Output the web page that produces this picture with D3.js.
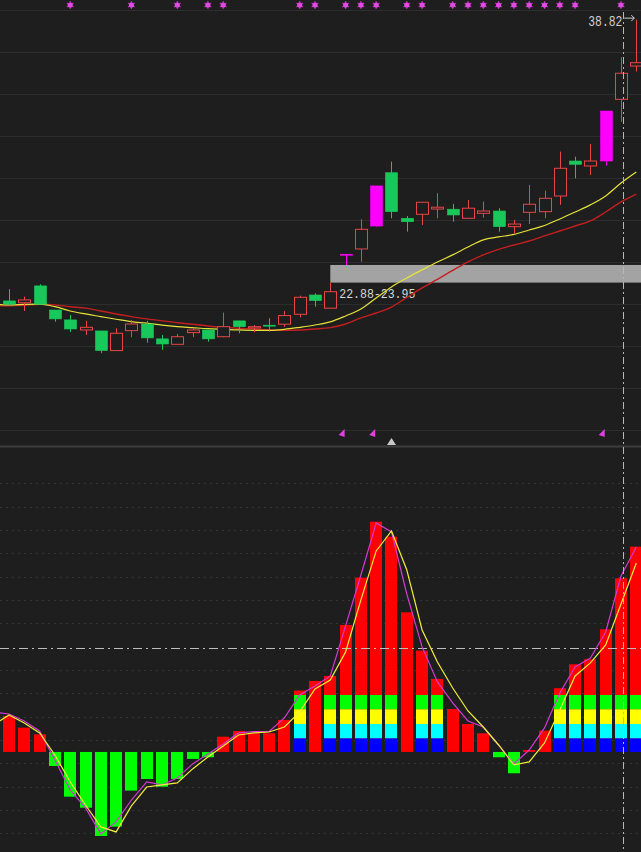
<!DOCTYPE html>
<html>
<head>
<meta charset="utf-8">
<script src="https://cdn.jsdelivr.net/npm/d3@7"></script>
<style>
  body { margin: 0; background: #1e1e1e; overflow: hidden; }
  svg { display: block; }
</style>
</head>
<body>
<script>
var width = 641;
var height = 852;

// daily candles (price)
var opens  = [21.77,21.66,22.68,21.22,20.62,20.01,19.95,18.76,19.97,20.37,19.47,19.14,19.85,20.01,19.60,20.56,20.13,20.30,20.36,20.96,22.13,21.33,
              24.60,24.92,26.31,29.54,26.78,27.02,27.34,27.33,26.78,27.08,27.22,26.27,27.14,27.18,28.13,30.25,29.95,30.25,33.99,36.01];
var highs  = [22.48,22.03,22.78,21.22,20.92,20.57,19.95,20.11,20.62,20.56,19.71,19.77,20.15,20.01,21.06,20.56,20.31,20.72,21.16,22.09,22.23,22.88,
              24.60,26.72,28.74,30.21,26.92,27.75,28.30,27.65,27.89,27.79,27.39,26.68,28.80,28.45,30.82,30.51,31.28,33.28,36.54,38.82];
var lows   = [21.47,21.16,21.57,20.51,19.89,19.71,18.60,18.76,19.57,19.24,18.80,19.14,19.57,19.30,19.57,19.81,19.87,19.91,20.21,20.76,21.42,21.33,
              23.95,24.15,26.27,26.78,25.97,26.37,26.78,26.57,26.78,26.82,25.97,25.87,26.43,26.78,27.59,29.20,29.40,29.97,32.63,35.67];
var closes = [21.57,21.83,21.57,20.68,20.07,20.17,18.76,19.81,20.37,19.53,19.16,19.60,20.01,19.47,20.21,20.21,20.21,20.25,20.88,21.99,21.79,22.33,
              24.60,26.11,28.74,27.18,26.57,27.75,27.45,26.98,27.39,27.22,26.27,26.43,27.63,27.99,29.81,30.05,30.25,33.28,35.57,36.21];
var limitUp = [22, 24, 39];
var starDays = [4, 8, 11, 13, 14, 19, 20, 22, 23, 24, 26, 27, 29, 30, 31, 32, 33, 34, 35, 36, 37, 40];
var arrowDay = 25;

// moving averages, first value is the day before the window
var maFast = [21.56,21.53,21.56,21.57,21.42,21.16,20.98,20.82,20.66,20.51,20.42,20.30,20.21,20.15,20.09,20.05,20.01,19.99,19.99,20.05,20.17,20.31,20.50,
              20.86,21.28,21.95,22.62,23.16,23.65,24.13,24.56,25.04,25.47,25.65,25.80,26.07,26.34,26.74,27.16,27.59,28.13,28.92,29.59];
var maSlow = [21.47,21.47,21.50,21.57,21.53,21.42,21.33,21.16,20.98,20.82,20.68,20.56,20.45,20.36,20.25,20.17,20.11,20.07,20.01,19.99,20.01,20.07,20.15,
              20.37,20.74,21.04,21.40,21.98,22.56,23.07,23.62,24.13,24.56,24.89,25.16,25.40,25.71,26.01,26.31,26.62,27.16,27.77,28.25];

var gapLow = 22.88;
var gapHigh = 23.95;
var gapFrom = 21;

// lower indicator
var hist = [34.6,23.4,17.0,-13.5,-43.0,-53.6,-80.8,-71.8,-37.2,-26.0,-33.4,-26.0,-6.7,-5.1,14.7,20.2,18.0,18.0,30.8,59.1,68.3,73.1,
            122.1,167.6,221.4,207.0,134.3,97.4,70.2,41.3,26.9,18.0,-5.1,-20.5,1.9,20.5,61.3,84.3,89.1,118.0,167.0,197.4];
var stacked = [19, 21, 22, 23, 24, 25, 27, 28, 36, 37, 38, 39, 40, 41];
var stackLevels = [0, 13.2, 26.9, 41.1, 54.8];
var stackColors = ["#0000ff", "#00ffff", "#ffff00", "#00ff00"];
var fastLine = [38.5,36.5,29.8,20.2,-7.7,-36.5,-53.8,-78.8,-67.3,-46.2,-28.8,-31.7,-25.0,-11.5,-1.9,7.7,18.3,19.5,19.7,32.7,54.8,63.5,73.1,
                121.2,170.2,220.2,211.5,151.9,101.0,67.3,47.1,29.8,24.0,6.7,-11.5,1.9,23.1,56.7,81.7,90.4,115.4,169.2,197.1];
var slowLine = [26.0,35.6,27.9,18.3,-2.9,-28.8,-51.0,-72.1,-76.9,-51.9,-33.7,-31.7,-29.8,-16.3,-4.8,5.8,16.3,18.3,19.2,24.0,38.5,60.6,69.2,
                96.2,146.2,193.3,212.5,175.0,117.3,86.5,61.5,39.4,24.0,6.7,-12.5,-9.6,8.7,40.4,73.1,85.6,102.9,142.3,181.7];
var refLevel = 100;
var cursorDay = 40.15;

var n = opens.length;
var bg = "#1e1e1e";
var upColor = "#e84646", downColor = "#19c85a", limitColor = "#ff00ff";

var x = d3.scaleLinear().domain([0, n - 1]).range([9, 636.3]);
var y = d3.scaleLinear().domain([13.34, 40.01]).range([440, 0]);
var yi = d3.scaleLinear().domain([-96.2, 294.2]).range([852, 446]);
var gridRow = d3.scaleLinear().domain([0, 10]).range([10, 430]);
var dotRow = d3.scaleLinear().domain([0, 15]).range([483.3, 833.3]);

var svg = d3.select("body").append("svg")
    .attr("width", width)
    .attr("height", height)
    .style("background", bg);

// grid of the price panel
svg.append("g").selectAll("line")
  .data(d3.range(11))
  .enter().append("line")
  .attr("x1", 0).attr("x2", width)
  .attr("y1", function(d) { return Math.round(gridRow(d)) + 0.5; })
  .attr("y2", function(d) { return Math.round(gridRow(d)) + 0.5; })
  .attr("stroke", "#2d2d2d");

svg.append("line")
  .attr("x1", 0).attr("x2", width)
  .attr("y1", 446.5).attr("y2", 446.5)
  .attr("stroke", "#3e3e3e").attr("stroke-width", 2);

// dotted grid of the indicator panel
svg.append("g").selectAll("line")
  .data(d3.range(16).filter(function(d) { return d != 7; }))
  .enter().append("line")
  .attr("x1", 0).attr("x2", width)
  .attr("y1", function(d) { return Math.round(dotRow(d)) + 0.5; })
  .attr("y2", function(d) { return Math.round(dotRow(d)) + 0.5; })
  .attr("stroke", "#353535")
  .attr("stroke-dasharray", "2,4");

// gap band
svg.append("rect")
  .attr("x", x(gapFrom))
  .attr("y", y(gapHigh))
  .attr("width", width - x(gapFrom))
  .attr("height", y(gapLow) - y(gapHigh))
  .attr("fill", "#a3a3a3");

svg.append("text")
  .attr("x", x(gapFrom) + 9)
  .attr("y", y(gapLow) + 15)
  .attr("fill", "#d8d8d8")
  .attr("font-family", "Liberation Mono, monospace")
  .attr("font-size", 13)
  .attr("textLength", 76)
  .attr("lengthAdjust", "spacingAndGlyphs")
  .text(gapLow.toFixed(2) + "-" + gapHigh.toFixed(2));

// moving averages
var maLine = d3.line()
  .x(function(d, i) { return x(i - 1); })
  .y(function(d) { return y(d); })
  .curve(d3.curveMonotoneX);

svg.append("path").datum(maSlow)
  .attr("d", maLine)
  .attr("fill", "none")
  .attr("stroke", "#c41f1f")
  .attr("stroke-width", 1.4);

svg.append("path").datum(maFast)
  .attr("d", maLine)
  .attr("fill", "none")
  .attr("stroke", "#e6e23a")
  .attr("stroke-width", 1.2);

// candles
var candles = d3.range(n).map(function(i) {
  var kind = limitUp.indexOf(i) >= 0 ? "limit" : (closes[i] >= opens[i] ? "up" : "down");
  return { i: i, o: opens[i], h: highs[i], l: lows[i], c: closes[i], kind: kind };
});
var colorOf = function(d) {
  return d.kind == "limit" ? limitColor : (d.kind == "up" ? upColor : downColor);
};

var cg = svg.append("g");
cg.selectAll(".wick")
  .data(candles)
  .enter().append("line")
  .attr("class", "wick")
  .attr("x1", function(d) { return Math.round(x(d.i)) + 0.5; })
  .attr("x2", function(d) { return Math.round(x(d.i)) + 0.5; })
  .attr("y1", function(d) { return y(d.h); })
  .attr("y2", function(d) { return y(d.l); })
  .attr("stroke", colorOf);

cg.selectAll(".body")
  .data(candles)
  .enter().append("rect")
  .attr("class", "body")
  .attr("x", function(d) { return Math.round(x(d.i)) - 5.5; })
  .attr("width", 12)
  .attr("y", function(d) { return Math.min(y(d.o), y(d.c)); })
  .attr("height", function(d) { return Math.max(1, Math.abs(y(d.o) - y(d.c))); })
  .attr("fill", function(d) { return d.kind == "up" ? bg : colorOf(d); })
  .attr("stroke", function(d) { return d.kind == "up" ? upColor : colorOf(d); })
  .attr("stroke-width", function(d) { return d.kind == "up" ? 1 : 0.6; });

// top stars
var sg = svg.append("g").selectAll("g")
  .data(starDays)
  .enter().append("g")
  .attr("transform", function(d) { return "translate(" + x(d) + ",5)"; });
sg.append("path")
  .attr("d", d3.symbol(d3.symbolAsterisk, 42))
  .attr("stroke", "#b22fb2")
  .attr("stroke-width", 1.2);
sg.append("circle")
  .attr("r", 2.6)
  .attr("fill", "#e04ae0");

// signal flags near the bottom of the price panel
svg.append("g").selectAll("path")
  .data(limitUp)
  .enter().append("path")
  .attr("d", function(d) {
    var cx = x(d) - 1;
    return "M" + cx + ",429L" + cx + ",437L" + (cx - 6) + ",435Z";
  })
  .attr("fill", "#e040e0");

svg.append("path")
  .attr("d", "M" + x(arrowDay) + ",438L" + (x(arrowDay) - 4.5) + ",445L" + (x(arrowDay) + 4.5) + ",445Z")
  .attr("fill", "#c8c8c8");

// high label
var hi = d3.max(highs);
var hiDay = highs.indexOf(hi);
svg.append("text")
  .attr("x", x(cursorDay) - 1)
  .attr("y", y(hi) + 6)
  .attr("text-anchor", "end")
  .attr("fill", "#cfcfcf")
  .attr("font-family", "Liberation Mono, monospace")
  .attr("font-size", 14)
  .attr("textLength", 34)
  .attr("lengthAdjust", "spacingAndGlyphs")
  .text(hi.toFixed(2));
svg.append("path")
  .attr("d", "M" + (x(cursorDay) + 1) + "," + (y(hi) - 1.5) + "H" + (x(hiDay) - 2) +
             "M" + (x(hiDay) - 5) + "," + (y(hi) - 4.5) + "L" + (x(hiDay) - 2) + "," + (y(hi) - 1.5) +
             "L" + (x(hiDay) - 5) + "," + (y(hi) + 1.5))
  .attr("fill", "none")
  .attr("stroke", "#cfcfcf");

// indicator bars
var ig = svg.append("g");
ig.selectAll(".bar")
  .data(hist)
  .enter().append("rect")
  .attr("class", "bar")
  .attr("x", function(d, i) { return Math.round(x(i)) - 6; })
  .attr("width", 12)
  .attr("y", function(d) { return yi(Math.max(0, d)); })
  .attr("height", function(d) { return Math.abs(yi(d) - yi(0)); })
  .attr("fill", function(d) { return d >= 0 ? "#ff0000" : "#00ff00"; });

var blocks = [];
stacked.forEach(function(i) {
  for (var k = 0; k < 4; k++) {
    blocks.push({ i: i, lo: stackLevels[k], hi: Math.min(stackLevels[k + 1], hist[i]), color: stackColors[k] });
  }
});
ig.selectAll(".block")
  .data(blocks)
  .enter().append("rect")
  .attr("class", "block")
  .attr("x", function(d) { return Math.round(x(d.i)) - 6; })
  .attr("width", 12)
  .attr("y", function(d) { return yi(d.hi); })
  .attr("height", function(d) { return yi(d.lo) - yi(d.hi); })
  .attr("fill", function(d) { return d.color; });

// reference and cursor lines
svg.append("line")
  .attr("x1", 0).attr("x2", width)
  .attr("y1", Math.round(yi(refLevel)) + 0.5).attr("y2", Math.round(yi(refLevel)) + 0.5)
  .attr("stroke", "#bdbdbd")
  .attr("stroke-dasharray", "9,4,2,4");

var lineI = d3.line()
  .x(function(d, i) { return x(i - 1); })
  .y(function(d) { return yi(d); });

svg.append("path").datum(fastLine)
  .attr("d", lineI)
  .attr("fill", "none")
  .attr("stroke", "#d23ad2")
  .attr("stroke-width", 1.2);

svg.append("path").datum(slowLine)
  .attr("d", lineI)
  .attr("fill", "none")
  .attr("stroke", "#f2ee3c")
  .attr("stroke-width", 1.2);

svg.append("line")
  .attr("x1", Math.round(x(cursorDay)) + 0.5).attr("x2", Math.round(x(cursorDay)) + 0.5)
  .attr("y1", 12).attr("y2", height)
  .attr("stroke", "#b8b8b8")
  .attr("stroke-dasharray", "7,3,2,3");
</script>
</body>
</html>
